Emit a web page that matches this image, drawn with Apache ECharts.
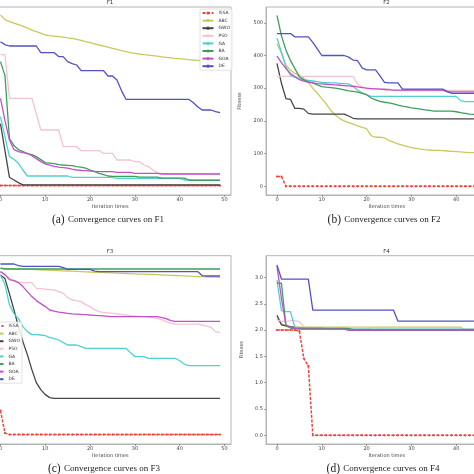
<!DOCTYPE html>
<html>
<head>
<meta charset="utf-8">
<script src="https://cdn.jsdelivr.net/npm/echarts@6/dist/echarts.min.js"></script>
<style>
html,body{margin:0;padding:0;background:#fff;}
#c{width:474px;height:474px;}
</style>
</head>
<body>
<div id="c"></div>
<script>
// ---------- data ----------
const iterations = [0,1,2,3,4,5,6,7,8,9,10,11,12,13,14,15,16,17,18,19,20,21,22,23,24,25,26,27,28,29,30,31,32,33,34,35,36,37,38,39,40,41,42,43,44,45,46,47,48,49];
const algorithms = ['ISSA','ABC','GWO','PSO','GA','BA','GOA','DE'];
const xTicks = [0,10,20,30,40,50];
const f2Ticks = [0,100,200,300,400,500];
const f4Ticks = [0,0.5,1,1.5,2,2.5,3];

// F1 (relative fitness units, axis labels not visible)
const f1_ISSA = [0,0,0,0,0,0,0,0,0,0,0,0,0,0,0,0,0,0,0,0,0,0,0,0,0,0,0,0,0,0,0,0,0,0,0,0,0,0,0,0,0,0,0,0,0,0,0,0,0,0];
const f1_ABC = [170.6,166,164,162.5,161,159.5,157.5,155.5,154,152.5,150.6,150,149.5,149,148.5,147.8,147.3,146.3,145.2,144,143,141.8,140.6,139.5,138.4,137.3,136.2,135,134,133,132.3,131.6,131,130.5,130,129.4,128.8,128.3,127.8,127.3,126.9,126.5,126,125.6,125.2,124.8,124.3,123.8,123.3,122.9];
const f1_GWO = [62,35,8.3,5.6,3,0.8,0.8,0.8,0.8,0.8,0.8,0.8,0.8,0.8,0.8,0.8,0.8,0.8,0.8,0.8,0.8,0.8,0.8,0.8,0.8,0.8,0.8,0.8,0.8,0.8,0.8,0.8,0.8,0.8,0.8,0.8,0.8,0.8,0.8,0.8,0.8,0.8,0.8,0.8,0.8,0.8,0.8,0.8,0.8,0.8];
const f1_PSO = [131,131,87.3,87.3,87.3,87.3,87.3,87.3,72,55.6,55.6,55.6,55.6,55.6,38.9,38.9,38.9,38.9,35,35,35,35,35,32.3,32.3,32.3,25.6,25.6,25.6,25.6,23.9,23.9,20.6,19,15.6,13,12,12,12,12,12,12,12,12,12,12,12,12,12,12];
const f1_GA = [68.9,49,29,26.3,22.3,15.6,9.6,9.6,9.6,9.6,9.6,9.6,9.6,9.6,9.6,9.6,8.3,8.3,8.3,8.3,8.3,8.3,8.3,8.3,8.3,8.3,7.3,7.3,7.3,7.3,7.3,7.3,7.3,7.3,7.3,7.3,7.3,7.3,7.3,7.3,7.3,5.6,5.6,5.6,5.6,5.6,5.6,5.6,5.6,5.6];
const f1_BA = [123.9,110,47,40,36,34,32,31,29,26,23,22.5,22,21,20.6,20.3,20,19,18.5,17.5,15.6,14,12.3,11,9.6,9.2,9.2,9.2,9.2,9.2,9.2,8.5,8.5,8.5,8.5,8.5,7.5,7.5,7.5,7.5,7.5,7.5,5.6,5.3,5.3,5.3,5.3,5.3,5.3,5.3];
const f1_GOA = [87.3,65,45.6,36,34,33,32.3,30,27,24,21.6,20.5,19.3,18.5,18,17.5,16.5,15.6,15.3,15,14.6,14.3,14,14,14,14,13.3,13.3,13.3,13.3,12.3,12.3,12.3,12.3,12.3,12.3,11.6,11.6,11.6,11.6,11.6,11.6,11.6,11.6,11.6,11.6,11.6,11.6,11.6,11.6];
const f1_DE = [143.9,141,139.6,139.6,139.6,139.6,139.6,139.6,139.6,132.9,132.9,132.9,132.9,129,129,124,122,120.6,114.9,114.9,114.9,114.9,114.9,114.9,109.6,109.6,105.6,95,86.3,86.3,86.3,86.3,86.3,86.3,86.3,86.3,86.3,86.3,86.3,86.3,86.3,86.3,86.3,83,78.9,75.6,75.6,75.6,74,72.9];

// F2
const f2_ISSA = [30,30,0,0,0,0,0,0,0,0,0,0,0,0,0,0,0,0,0,0,0,0,0,0,0,0,0,0,0,0,0,0,0,0,0,0,0,0,0,0,0,0,0,0,0,0,0,0,0,0];
const f2_ABC = [437,407,370,355,345,340,330,318,300,285,268,252,232,218,207,200,195,190,185,180,176,155,150,150,148,140,135,130,126,122,118,116,114,112,111,110,110,109,108,107,106,105,104,103,103,102,102,102,102,102];
const f2_GWO = [376,315,268,266,238,238,236,223,221,221,221,221,221,221,221,221,215,208,206,206,206,206,206,206,206,206,206,206,206,206,206,206,206,206,206,206,206,206,206,206,206,206,206,206,206,206,206,206,206,206];
const f2_PSO = [336,336,336,336,336,336,336,336,336,336,336,336,336,336,336,336,336,336,312,304,300,298,298,298,298,298,293,293,293,293,293,293,293,293,293,293,293,293,293,293,293,293,293,293,293,293,293,293,293,293];
const f2_GA = [453,410,365,340,333,329,326,324,322,320,318,317,316,316,315,314,313,305,294,286,280,275,275,275,275,275,275,275,275,275,275,275,275,275,275,275,275,275,275,275,275,262,259,259,259,259,259,259,259,259];
const f2_BA = [523,460,417,385,360,335,325,320,316,310,305,303,302,300,298,295,292,290,288,284,280,270,264,260,257,255,252,248,245,243,240,238,236,234,232,230,230,230,230,230,228,225,223,221,220,220,220,220,220,220];
const f2_GOA = [398,378,360,345,335,326,322,318,316,314,313,312,311,310,309,308,307,306,304,302,300,299,298,297,296,295,294,294,294,294,294,294,294,294,294,294,294,294,289,289,289,289,289,289,289,289,289,289,289,289];
const f2_DE = [467,467,467,467,457,457,457,457,440,420,400,400,400,400,400,400,395,386,384,362,356,356,356,338,318,316,316,316,297,297,297,297,297,297,297,297,297,297,290,284,284,284,284,284,284,284,284,284,284,284];

// F3 (relative fitness units, axis labels not visible)
const f3_ISSA = [24,1.5,0,0,0,0,0,0,0,0,0,0,0,0,0,0,0,0,0,0,0,0,0,0,0,0,0,0,0,0,0,0,0,0,0,0,0,0,0,0,0,0,0,0,0,0,0,0,0,0];
const f3_ABC = [166.3,166.1,165.9,165.7,165.5,165.4,165.3,165.2,165,164.8,164.6,164.4,164.2,164,163.8,163.6,163.4,163.2,163,162.8,162.6,162.3,162.3,162.1,161.9,161.7,161.5,161.3,161.1,160.9,160.7,160.5,160.4,160.3,160.1,159.9,159.7,159.5,159.3,159.1,158.9,158.7,158.5,158.2,158,157.9,157.7,157.6,157.4,157.3];
const f3_GWO = [159.6,156,141,125,108,93,80,65,52,45,40,37,36.3,36.3,36.3,36.3,36.3,36.3,36.3,36.3,36.3,36.3,36.3,36.3,36.3,36.3,36.3,36.3,36.3,36.3,36.3,36.3,36.3,36.3,36.3,36.3,36.3,36.3,36.3,36.3,36.3,36.3,36.3,36.3,36.3,36.3,36.3,36.3,36.3,36.3];
const f3_PSO = [163,160,156,154,152.5,152,152,152,146.3,146,145.5,145,144.6,143,141.3,137,134.6,134,133,130,127.9,125,122.9,122.3,121.8,121.3,120.8,120.3,119.6,119,118.6,118.3,118,117.5,117,116.3,115,113,111.3,110.5,110.5,110.5,110.5,110.5,110.5,109.6,108.5,107.3,103,102];
const f3_GA = [159.6,150,130,121,116,108,103,100,100,99.6,99,97,96,94.6,92,89.6,89.6,89.6,88,86.3,86.3,86.3,86.3,86.3,86.3,86.3,86.3,86.3,86.3,82,78,77.9,77.9,76.3,76.3,76.3,76.3,76.3,76.3,76.3,73.9,70.5,69,69,69,69,69,69,69,69];
const f3_BA = [166.5,165.6,165.6,165.6,165.6,165.6,165.6,165.6,165.6,165.6,165.6,165.6,165.6,165.6,165.6,165.6,165.6,165.6,165.6,165.6,165.6,165.6,165.6,165.6,165.6,165.6,165.6,165.6,165.6,165.6,165.6,165.6,165.6,165.6,165.6,165.6,165.6,165.6,165.6,165.6,165.6,165.6,165.6,165.6,165.6,165.6,165.6,165.6,165.6,165.6];
const f3_GOA = [163,160,155,154,152,148,143,138,134,131,128,124.6,123.5,122.5,122,121.3,120.8,120.5,120.2,120,119.6,119.3,119,118.7,118.3,117.9,117.9,117.9,117.9,117.9,117.9,117.9,117.9,117.9,117.9,117.9,117,116,114,113.3,113.3,113.3,113.3,113.3,113.3,113.3,113.3,113.3,113.3,113.3];
const f3_DE = [170.6,170.6,170.6,170.6,169,168.3,168.3,168.3,168.3,168.3,168.3,168.3,168.3,168.3,167,165.3,165.3,165.3,165.3,165.3,165.3,163.5,163,163,163,163,163,163,163,163,163,163,163,163,163,163,163,163,163,163,163,163,163,163,163,159,158.6,158.6,158.6,158.6];

// F4
const f4_ISSA = [2,2,2,2,2,1.98,1.46,1.32,0,0,0,0,0,0,0,0,0,0,0,0,0,0,0,0,0,0,0,0,0,0,0,0,0,0,0,0,0,0,0,0,0,0,0,0,0,0,0,0,0,0];
const f4_ABC = [2.21,2.12,2.09,2.07,2.055,2.055,2.055,2.055,2.055,2.055,2.055,2.055,2.055,2.055,2.055,2.055,2.055,2.055,2.055,2.055,2.055,2.055,2.055,2.055,2.055,2.055,2.055,2.055,2.055,2.055,2.055,2.055,2.055,2.055,2.055,2.055,2.055,2.055,2.055,2.055,2.055,2.055,2.01,2.005,2.005,2.005,2.005,2.005,2.005,2.005];
const f4_GWO = [2.28,2.1,2.08,2.06,2.05,2.04,2.03,2.03,2.03,2.03,2.03,2.03,2.03,2.03,2.03,2.03,2,2,2,2,2,2,2,2,2,2,2,2,2,2,2,2,2,2,2,2,2,2,2,2,2,2,2,2,2,2,2,2,2,2];
const f4_PSO = [2.19,2.17,2.16,2.18,2.18,2.16,2.06,2.04,2.04,2.04,2.04,2.04,2.04,2.04,2.04,2.04,2.04,2.04,2.04,2.04,2.04,2.02,2.02,2.02,2.02,2.02,2.02,2.02,2.02,2.02,2.02,2.02,2.02,2.02,2.02,2.02,2.02,2.02,2.02,2.02,2.02,2.02,2.02,2.02,2.02,2.02,2.02,2.02,2.02,2.02];
const f4_GA = [2.95,2.37,2.35,2.35,2.05,2.04,2.04,2.04,2.04,2.04,2.04,2.02,2.02,2.02,2.02,2.02,2.02,2.02,2.02,2.02,2.02,2.02,2.02,2.02,2.02,2.02,2.02,2.02,2.02,2.02,2.02,2.02,2.02,2.02,2.02,2.02,2.02,2.02,2.02,2.02,2.02,2.02,2.02,2.02,2.02,2.02,2.02,2.02,2.02,2.02];
const f4_BA = [2.89,2.89,2.08,2.04,2.03,2.03,2.03,2.03,2.03,2.03,2.03,2.03,2.03,2.03,2.03,2.03,2.03,2.01,2.01,2.01,2.01,2.01,2.01,2.01,2.01,2.01,2.01,2.01,2.01,2.01,2.01,2.01,2.01,2.01,2.01,2.01,2.01,2.01,2.01,2.01,2.01,2.01,2.01,2.01,2.01,2.01,2.01,2.01,2.01,2.01];
const f4_GOA = [3.22,2.6,2.1,2.05,2.03,2.02,2.02,2.02,2.02,2.02,2.02,2.02,2.02,2.02,2.02,2.02,2,2,2,2,2,2,2,2,2,2,2,2,2,2,2,2,2,2,2,2,2,2,2,2,2,2,2,2,2,2,2,2,2,2];
const f4_DE = [3.24,2.97,2.97,2.97,2.97,2.97,2.97,2.97,2.38,2.38,2.38,2.38,2.38,2.38,2.38,2.38,2.38,2.38,2.38,2.38,2.38,2.38,2.38,2.38,2.38,2.38,2.38,2.17,2.17,2.17,2.17,2.17,2.17,2.17,2.17,2.17,2.17,2.17,2.17,2.17,2.17,2.17,2.17,2.17,2.17,2.17,2.17,2.17,2.17,2.17];

// ---------- styles ----------
const colors = {ISSA:'#e8463e', ABC:'#c9c95e', GWO:'#454545', PSO:'#f3c3d3', GA:'#52d0d0', BA:'#3e9e5c', GOA:'#c052c8', DE:'#5252c6'};
const panels = [
  {data:{ISSA:f1_ISSA,ABC:f1_ABC,GWO:f1_GWO,PSO:f1_PSO,GA:f1_GA,BA:f1_BA,GOA:f1_GOA,DE:f1_DE}, ymin:-9.4, ymax:178.6, grid:{left:-10.5, top:7, width:241.5, height:188}, yLabels:false, title:'F1', tx:110, ty:3},
  {data:{ISSA:f2_ISSA,ABC:f2_ABC,GWO:f2_GWO,PSO:f2_PSO,GA:f2_GA,BA:f2_BA,GOA:f2_GOA,DE:f2_DE}, ymin:-26.6, ymax:548.3, grid:{left:266, top:7, width:241.5, height:188}, yLabels:true, ticks:f2Ticks, title:'F2', tx:386.5, ty:3},
  {data:{ISSA:f3_ISSA,ABC:f3_ABC,GWO:f3_GWO,PSO:f3_PSO,GA:f3_GA,BA:f3_BA,GOA:f3_GOA,DE:f3_DE}, ymin:-9.4, ymax:178.9, grid:{left:-10.5, top:255.7, width:241.5, height:188.3}, yLabels:false, title:'F3', tx:110, ty:251.5},
  {data:{ISSA:f4_ISSA,ABC:f4_ABC,GWO:f4_GWO,PSO:f4_PSO,GA:f4_GA,BA:f4_BA,GOA:f4_GOA,DE:f4_DE}, ymin:-0.165, ymax:3.414, grid:{left:266, top:255.7, width:241.5, height:188.3}, yLabels:true, ticks:f4Ticks, fmt:v=>v.toFixed(1), title:'F4', tx:386.5, ty:251.5}
];

const grids=[], xAxes=[], yAxes=[], series=[];
panels.forEach((p,i)=>{
  grids.push(Object.assign({show:true, borderColor:'#b4b4b4', borderWidth:1, backgroundColor:'#fff', outerBoundsMode:'none', containLabel:false}, p.grid));
  xAxes.push({
    gridIndex:i, type:'value', min:-2.45, max:51.45,
    axisLine:{show:true, onZero:false, lineStyle:{color:'#b4b4b4', width:1}},
    axisTick:{show:true, customValues:xTicks, length:2, lineStyle:{color:'#666', width:0.6}},
    axisLabel:{show:true, customValues:xTicks, fontSize:5, color:'#444', margin:2.5, fontFamily:'DejaVu Sans', hideOverlap:false},
    splitLine:{show:false},
    name:'Iteration times', nameLocation:'middle', nameGap:9,
    nameTextStyle:{fontSize:5, color:'#444', fontFamily:'DejaVu Sans'}
  });
  const y = {
    gridIndex:i, type:'value', min:p.ymin, max:p.ymax,
    axisLine:{show:true, onZero:false, lineStyle:{color:'#b4b4b4', width:1}},
    splitLine:{show:false}
  };
  if (p.yLabels) {
    y.axisTick = {show:true, customValues:p.ticks, length:2, lineStyle:{color:'#666', width:0.6}};
    y.axisLabel = {show:true, customValues:p.ticks, fontSize:5, color:'#444', margin:3, fontFamily:'DejaVu Sans'};
    if (p.fmt) y.axisLabel.formatter = p.fmt;
    y.name = 'Fitness'; y.nameLocation='middle'; y.nameGap=14;
    y.nameTextStyle = {fontSize:5, color:'#444', fontFamily:'DejaVu Sans'};
  } else {
    y.axisTick = {show:false};
    y.axisLabel = {show:false};
  }
  yAxes.push(y);
  algorithms.forEach((name,k)=>{
    const arr = p.data[name];
    const s = {
      type:'line', name:name, xAxisIndex:i, yAxisIndex:i,
      data: iterations.map((it,j)=>[it, arr[j]]),
      showSymbol: name==='ISSA', symbol: name==='ISSA' ? 'circle' : 'none', symbolSize:2.2,
      lineStyle:{color:colors[name], width: name==='ISSA' ? 1.5 : 1.3, type: name==='ISSA' ? [3,1.5] : 'solid'},
      itemStyle:{color:colors[name]},
      z: 2 + k*0.01, animation:false, silent:true
    };
    series.push(s);
  });
});

const legendBase = {
  orient:'vertical', itemWidth:11, itemHeight:4, itemGap:2.6,
  padding:[1.5,2,1.5,1.5], borderColor:'#cfcfcf', borderWidth:0.6, borderRadius:1,
  backgroundColor:'rgba(255,255,255,0.85)', selectedMode:false,
  textStyle:{fontSize:4.5, color:'#333', lineHeight:4, fontFamily:'DejaVu Sans'},
  data:algorithms
};

const capStyle = (label, rest, x, y) => ({
  type:'text', x:x, y:y,
  style:{
    text:'{a|'+label+'} {b|'+rest+'}', textAlign:'center', textVerticalAlign:'middle',
    rich:{a:{fontSize:11.5, fontFamily:'Liberation Serif', fill:'#222'}, b:{fontSize:9, fontFamily:'Liberation Serif', fill:'#222'}}
  }
});

const graphics = panels.map(p=>({type:'text', x:p.tx, y:p.ty, style:{text:p.title, fontSize:5.5, fontFamily:'DejaVu Sans', fill:'#333', textAlign:'center', textVerticalAlign:'middle'}}));
graphics.push(capStyle('(a)','Convergence curves on F1',108,220));
graphics.push(capStyle('(b)','Convergence curves on F2',384,220));
graphics.push(capStyle('(c)','Convergence curves on F3',104,469));
graphics.push(capStyle('(d)','Convergence curves on F4',383,468.5));

const chart = echarts.init(document.getElementById('c'), null, {renderer:'canvas'});
chart.setOption({
  backgroundColor:'#fff',
  animation:false,
  grid:grids, xAxis:xAxes, yAxis:yAxes, series:series,
  legend:[
    Object.assign({left:200, top:9}, legendBase),
    Object.assign({left:-10, top:322}, legendBase)
  ],
  graphic:graphics
});
</script>
</body>
</html>
